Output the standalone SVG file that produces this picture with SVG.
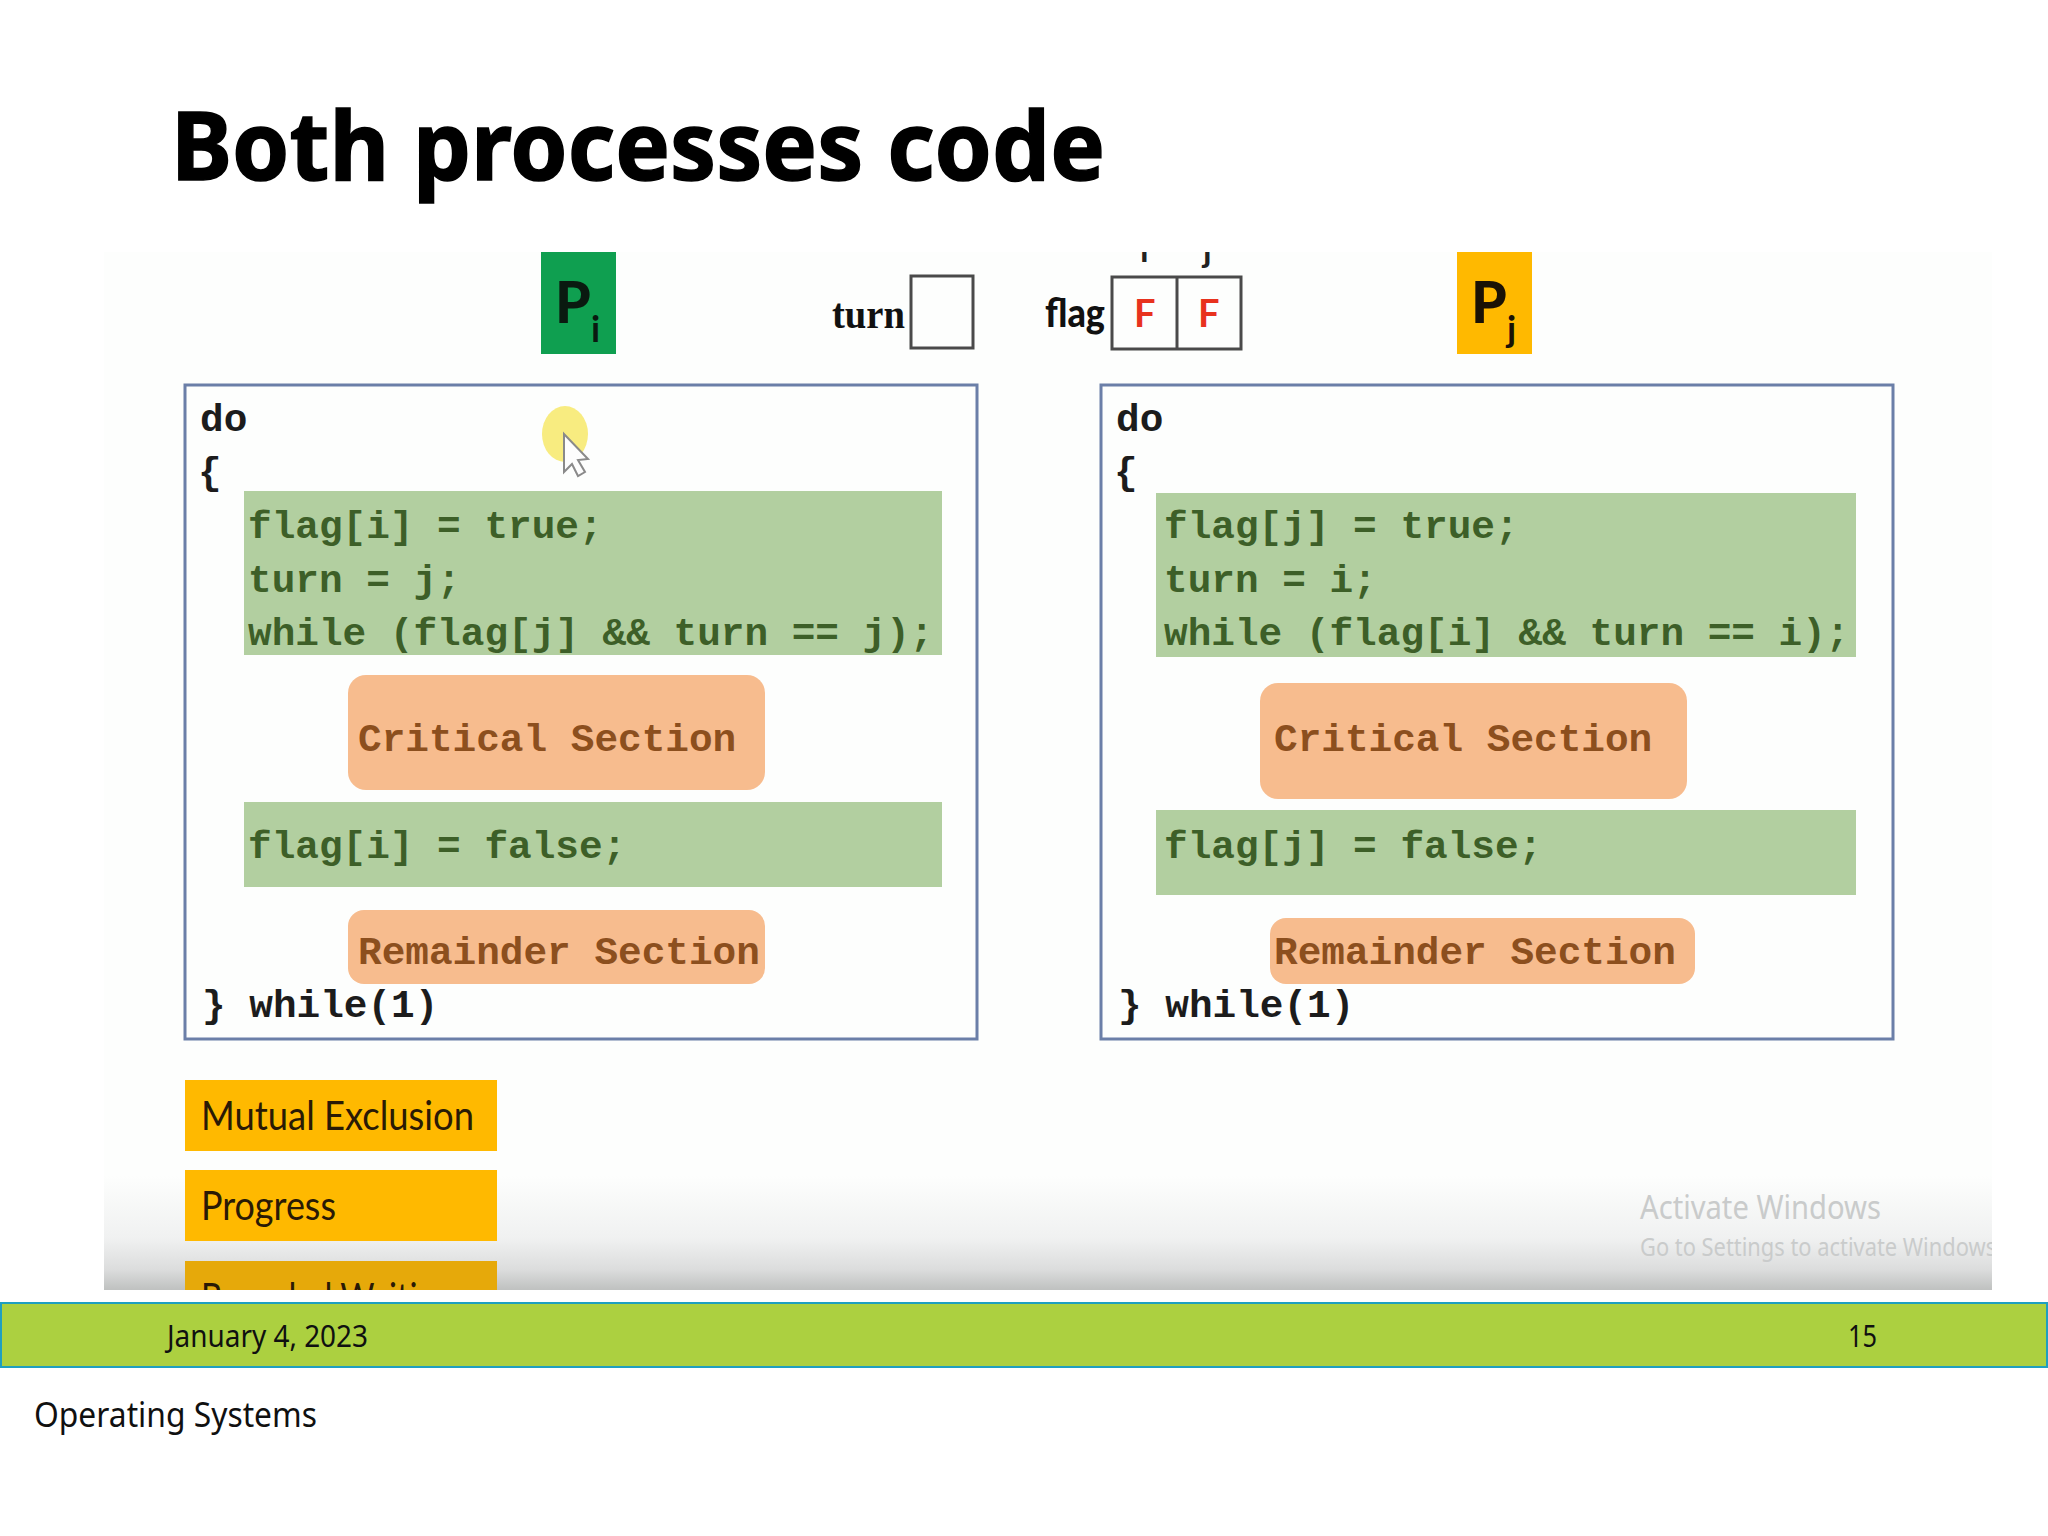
<svg xmlns="http://www.w3.org/2000/svg" width="2048" height="1536" viewBox="0 0 2048 1536">
<defs>
<linearGradient id="shot" x1="0" y1="0" x2="0" y2="1">
<stop offset="0" stop-color="#fdfefd"/><stop offset="0.89" stop-color="#fdfefd"/><stop offset="0.95" stop-color="#f0f1f1"/><stop offset="0.98" stop-color="#dcdddd"/><stop offset="1" stop-color="#bfc1c0"/>
</linearGradient>
<clipPath id="shotClip"><rect x="104" y="252" width="1888" height="1038"/></clipPath>
</defs>
<style>
.code{font-family:"Liberation Mono",monospace;font-weight:700;font-size:39.4px}
.blk{fill:#1c1c1c}.grn{fill:#3d5f28}.brn{fill:#8c4f1e}
.box{fill:none;stroke:#6b7fa8;stroke-width:3}
.greenbg{fill:#b2cfa0}.orange{fill:#f7bc8e}
.yellow{fill:#ffb900}
.lato{font-family:Lato,"Liberation Sans",sans-serif}
.ns{font-family:"Noto Sans","Liberation Sans",sans-serif}
.cell{fill:none;stroke:#4a4a4a;stroke-width:3}
.req{font-size:41px;fill:#2a1a05}
.tiny{font-family:"Liberation Serif",serif;font-weight:700;font-size:42px;fill:#111}
.foot{font-size:30px;fill:#101010}
.wm{fill:#c9cbcb}
</style>
<rect width="2048" height="1536" fill="#ffffff"/>
<text id="title" class="ns" x="171" y="180" font-size="95" font-weight="700" fill="#000" stroke="#000" stroke-width="1.5" textLength="934" lengthAdjust="spacingAndGlyphs">Both processes code</text>
<g id="screenshot" clip-path="url(#shotClip)">
<rect x="104" y="252" width="1888" height="1038" fill="url(#shot)"/>
<g id="process-i-label"><rect x="541" y="252" width="75" height="102" fill="#0f9f50"/>
<text class="lato" x="555" y="323" font-size="57" font-weight="900" fill="#0a1a10">P</text>
<text class="lato" x="591" y="342" font-size="36" font-weight="700" fill="#0a1a10">i</text></g>
<g id="turn"><text class="tiny" x="832" y="328" textLength="73" lengthAdjust="spacingAndGlyphs">turn</text>
<rect class="cell" x="911" y="276" width="62" height="72"/></g>
<g id="flag"><text class="lato" x="1045" y="327" font-size="40" font-weight="900" fill="#111" textLength="60" lengthAdjust="spacingAndGlyphs">flag</text>
<rect class="cell" x="1112" y="277" width="129" height="72"/><line class="cell" x1="1177" y1="277" x2="1177" y2="349"/>
<text class="lato" x="1134" y="327" font-size="38" font-weight="700" fill="#e8321e">F</text>
<text class="lato" x="1198" y="327" font-size="38" font-weight="700" fill="#e8321e">F</text>
<text class="lato" x="1140" y="262" font-size="34" font-weight="700" fill="#222">i</text>
<text class="lato" x="1203" y="262" font-size="34" font-weight="700" fill="#222">j</text></g>
<g id="process-j-label"><rect x="1457" y="252" width="75" height="102" fill="#ffb900"/>
<text class="lato" x="1471" y="323" font-size="57" font-weight="900" fill="#1a1205">P</text>
<text class="lato" x="1507" y="342" font-size="36" font-weight="700" fill="#1a1205">j</text></g>
<g id="process-i-code">
<rect class="box" x="185" y="385" width="792" height="654"/>
<rect class="greenbg" x="244" y="491" width="698" height="164"/>
<rect class="orange" x="348" y="675" width="417" height="115" rx="18"/>
<rect class="greenbg" x="244" y="802" width="698" height="85"/>
<rect class="orange" x="348" y="910" width="417" height="74" rx="16"/>
<text class="code blk" x="200" y="431">do</text>
<text class="code blk" x="198" y="484">{</text>
<text class="code grn" x="248" y="538">flag[i] = true;</text>
<text class="code grn" x="248" y="592">turn = j;</text>
<text class="code grn" x="248" y="645">while (flag[j] &amp;&amp; turn == j);</text>
<text class="code brn" x="358" y="751">Critical Section</text>
<text class="code grn" x="248" y="858">flag[i] = false;</text>
<text class="code brn" x="358" y="964">Remainder Section</text>
<text class="code blk" x="202" y="1017">} while(1)</text>
</g>
<g id="process-j-code">
<rect class="box" x="1101" y="385" width="792" height="654"/>
<rect class="greenbg" x="1156" y="493" width="700" height="164"/>
<rect class="orange" x="1260" y="683" width="427" height="116" rx="18"/>
<rect class="greenbg" x="1156" y="810" width="700" height="85"/>
<rect class="orange" x="1270" y="918" width="425" height="66" rx="16"/>
<text class="code blk" x="1116" y="431">do</text>
<text class="code blk" x="1114" y="484">{</text>
<text class="code grn" x="1164" y="538">flag[j] = true;</text>
<text class="code grn" x="1164" y="592">turn = i;</text>
<text class="code grn" x="1164" y="645">while (flag[i] &amp;&amp; turn == i);</text>
<text class="code brn" x="1274" y="751">Critical Section</text>
<text class="code grn" x="1164" y="858">flag[j] = false;</text>
<text class="code brn" x="1274" y="964">Remainder Section</text>
<text class="code blk" x="1118" y="1017">} while(1)</text>
</g>
<g id="cursor"><ellipse cx="565" cy="434" rx="23" ry="28" fill="#f8ec80"/>
<path d="M564 434V472L572 464L578 476L585 472L578 460L588 459Z" fill="#fdfdfd" stroke="#8a8a8a" stroke-width="2"/></g>
<g id="mutual-exclusion"><rect class="yellow" x="185" y="1080" width="312" height="71"/><text class="lato req" x="201" y="1130" textLength="273" lengthAdjust="spacingAndGlyphs">Mutual Exclusion</text></g>
<g id="progress"><rect class="yellow" x="185" y="1170" width="312" height="71"/><text class="lato req" x="201" y="1220" textLength="135" lengthAdjust="spacingAndGlyphs">Progress</text></g>
<g id="bounded-waiting"><rect x="185" y="1261" width="312" height="60" fill="#e6a90a"/><text class="lato req" x="201" y="1312" textLength="252" lengthAdjust="spacingAndGlyphs">Bounded Waiting</text></g>
<g id="watermark"><text class="ns wm" x="1640" y="1219" font-size="33" textLength="241" lengthAdjust="spacingAndGlyphs">Activate Windows</text>
<text class="ns wm" x="1640" y="1256" font-size="26" textLength="362" lengthAdjust="spacingAndGlyphs">Go to Settings to activate Windows.</text></g>
</g>
<g id="footer-bar"><rect x="1" y="1303" width="2046" height="64" fill="#acd040" stroke="#1f9fbf" stroke-width="2"/>
<text class="ns foot" x="167" y="1347" textLength="201" lengthAdjust="spacingAndGlyphs">January 4, 2023</text>
<text class="ns foot" x="1848" y="1347" textLength="29" lengthAdjust="spacingAndGlyphs">15</text></g>
<text id="footer-title" class="ns foot" x="34" y="1427" style="font-size:34px" textLength="283" lengthAdjust="spacingAndGlyphs">Operating Systems</text>
</svg>
